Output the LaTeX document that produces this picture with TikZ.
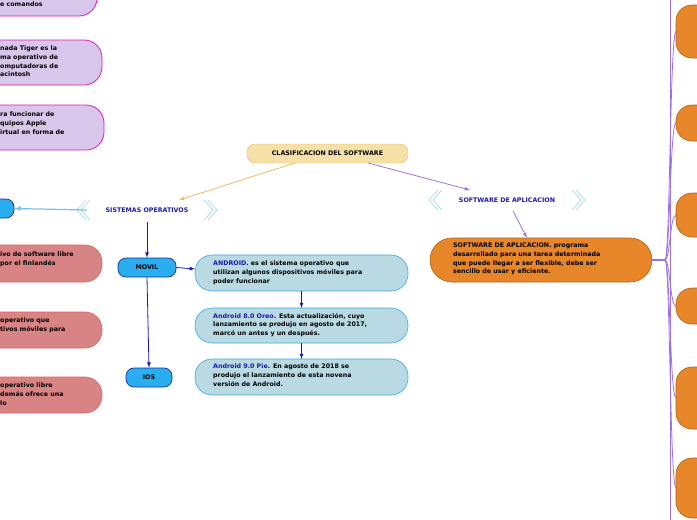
\documentclass[tikz,border=0pt]{standalone}
\usepackage{fontspec}
\setmainfont{DejaVu Sans}
\definecolor{pfill}{HTML}{D8C7EB}
\definecolor{pdraw}{HTML}{D81BB8}
\definecolor{rfill}{HTML}{D98484}
\definecolor{rdraw}{HTML}{E0605A}
\definecolor{afill}{HTML}{B9D9E3}
\definecolor{adraw}{HTML}{3AA8E0}
\definecolor{ofill}{HTML}{E8872A}
\definecolor{odraw}{HTML}{A8641E}
\definecolor{sfill}{HTML}{2AAEF0}
\definecolor{sdraw}{HTML}{1A2C9A}
\definecolor{tfill}{HTML}{F5E1A8}
\definecolor{tdraw}{HTML}{F2B860}
\definecolor{lav}{HTML}{9B72E6}
\definecolor{dblue}{HTML}{1A1AAA}
\begin{document}
\begin{tikzpicture}[x=1pt,y=-1pt,
 txt/.style={font=\bfseries\fontsize{6.3}{8.6}\selectfont,align=left,inner sep=0pt,anchor=north west},
 pbox/.style={draw=pdraw,fill=pfill,line width=0.8pt,rounded corners=18pt},
 rbox/.style={draw=rdraw,fill=rfill,line width=0.6pt,rounded corners=17pt},
 abox/.style={draw=adraw,fill=afill,line width=0.6pt,rounded corners=17pt},
 obox/.style={draw=odraw,fill=ofill,line width=0.6pt,rounded corners=20pt},
 sbox/.style={draw=sdraw,fill=sfill,line width=0.7pt,rounded corners=8pt},
 blu/.style={text=dblue},
 arr/.style={-latex,line width=0.8pt},
 chev/.style={adraw!50,line width=0.6pt}]
\useasboundingbox (0,0) rectangle (697,520);
\clip (0,0) rectangle (697,520);
% purple boxes
\draw[pbox] (-30,-15) rectangle (97,16);
\node[txt] (p1) at (0,2) {e comandos};
\node[txt] at (0,-6) {tante con interfaz};
\draw[pbox] (-30,40) rectangle (102,85);
\node[txt] (p2) at (0,46) {nada Tiger es la\\ma operativo de\\omputadoras de\\acintosh};
\draw[pbox] (-30,105) rectangle (104,150);
\node[txt] (p3) at (0,112) {ra funcionar de\\quipos Apple\\irtual en forma de};
% red boxes
\draw[rbox] (-30,245) rectangle (102,282);
\node[txt] (r1) at (0,252) {ivo de software libre\\ por el finlandés};
\draw[rbox] (-30,312) rectangle (102,348);
\node[txt] (r2) at (0,318) {operativo que\\tivos móviles para};
\draw[rbox] (-30,377) rectangle (102,413);
\node[txt] (r3) at (0,383) {operativo libre\\demás ofrece una\\lo};
% small blue left
\node[sbox,minimum width=40pt,minimum height=19pt] (lb) at (-6,208.5) {};
% title
\node[draw=tdraw,fill=tfill,rounded corners=8pt,minimum width=161pt,minimum height=19pt,font=\bfseries\fontsize{6.3}{7}\selectfont,inner sep=0pt] (title) at (327.5,153.5) {CLASIFICACION DEL SOFTWARE};
% SO label
\node[font=\bfseries\fontsize{6.3}{7}\selectfont,blu,inner sep=0pt,minimum width=120pt,minimum height=22pt] (so) at (147,210) {SISTEMAS OPERATIVOS};
\draw[chev] (90,200)--(81,210)--(90,220) (86,200)--(77,210)--(86,220);
\draw[chev] (204,200)--(213,210)--(204,220) (208,200)--(217,210)--(208,220);
% SA label
\node[font=\bfseries\fontsize{6.3}{7}\selectfont,blu,inner sep=0pt,minimum width=130pt,minimum height=22pt] (sa) at (507,200) {SOFTWARE DE APLICACION};
\draw[chev] (442,190)--(433,200)--(442,210) (438,190)--(429,200)--(438,210);
\draw[chev] (572,190)--(581,200)--(572,210) (576,190)--(585,200)--(576,210);
% movil / ios
\node[sbox,minimum width=58pt,minimum height=19pt,font=\bfseries\fontsize{6.3}{7}\selectfont,inner sep=0pt] (movil) at (147,267.5) {MOVIL};
\node[sbox,minimum width=46pt,minimum height=19pt,font=\bfseries\fontsize{6.3}{7}\selectfont,inner sep=0pt] (ios) at (149,377.5) {IOS};
% android
\draw[abox] (195,255) rectangle (408,291); \coordinate (a1) at (301.5,255); \coordinate (a1b) at (301.5,291); \coordinate (a1l) at (195,269);
\node[txt] at (213,261) {\textcolor{dblue}{ANDROID.} es el sistema operativo que\\utilizan algunos dispositivos móviles para\\poder funcionar};
\draw[abox] (195,308) rectangle (408,343); \coordinate (a2) at (301.5,308); \coordinate (a2b) at (301.5,343);
\node[txt] at (213,313) {\textcolor{dblue}{Android 8.0 Oreo}. Esta actualización, cuyo\\lanzamiento se produjo en agosto de 2017,\\marcó un antes y un después.};
\draw[abox] (195,359) rectangle (408,395); \coordinate (a3) at (301.5,359);
\node[txt] at (213,364) {\textcolor{dblue}{Android 9.0 Pie}. En agosto de 2018 se\\produjo el lanzamiento de esta novena\\versión de Android.};
% orange main
\draw[obox,rounded corners=22pt] (430,238) rectangle (652,282); \coordinate (ot) at (527,238); \coordinate (or) at (652,260);
\node[txt] at (453,243) {SOFTWARE DE APLICACION. programa\\desarrollado para una tarea determinada\\que puede llegar a ser flexible, debe ser\\sencillo de usar y eficiente.};
% right orange boxes & branches
\coordinate (hub) at (665,260);
\draw[lav,line width=1.4pt] (or)--(hub);
\draw[lav,line width=1pt] (670,0)--(670,520);
\foreach \a/\b in {5/58,105/141,193/237,288/324,367/429,458/518}{
 \draw[obox,rounded corners=16pt] (676,\a) rectangle (730,\b);
 \draw[lav,line width=0.8pt] (hub) .. controls (670,260) and (670,{(\a+\b)/2}) .. (676,{(\a+\b)/2});
}
% arrows
\draw[arr,tdraw] (295,163) -- (179,200);
\draw[arr,lav] (368,163) -- (470,190);
\draw[arr,adraw!70,line width=1.2pt] (so.west) -- (lb.east);
\draw[arr,dblue] (147,222) -- (movil.north);
\draw[arr,dblue] (movil.east) -- (a1l);
\draw[arr,dblue] (movil.south) -- (ios.north);
\draw[arr,dblue] (a1b) -- (a2);
\draw[arr,dblue] (a2b) -- (a3);
\draw[arr,lav] (513,211) -- (ot);
\end{tikzpicture}
\end{document}
